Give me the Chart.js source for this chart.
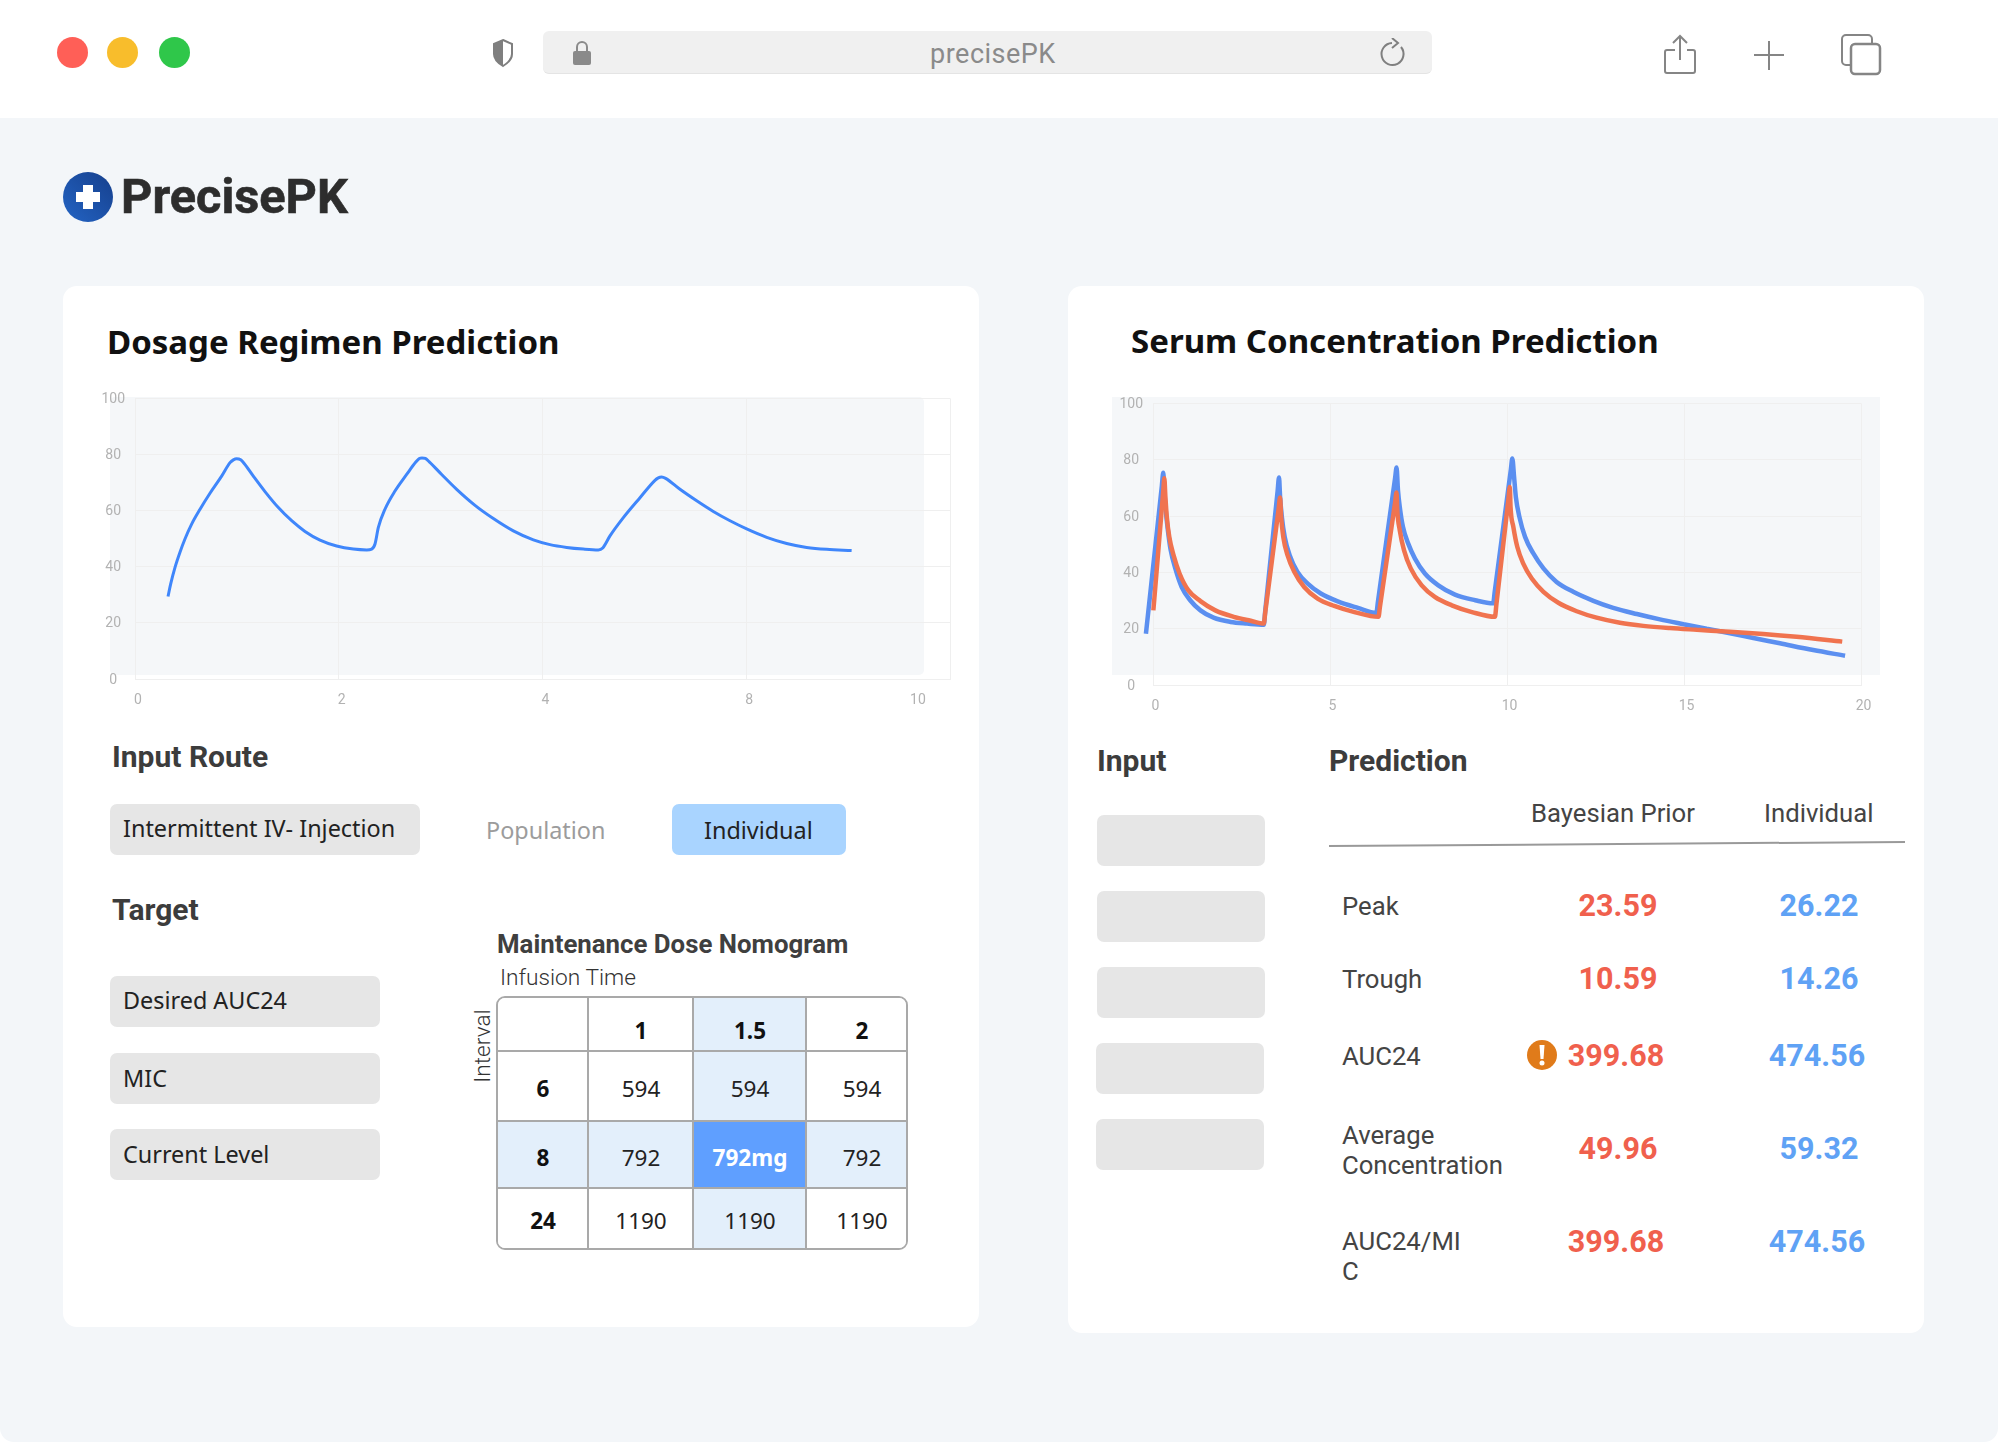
<!DOCTYPE html>
<html>
<head>
<meta charset="utf-8">
<title>PrecisePK</title>
<script src="https://cdn.jsdelivr.net/npm/chart.js@4"></script>
<style>
html, body { margin: 0; padding: 0; background: #fff; }
#page { position: relative; width: 2000px; height: 1442px; overflow: hidden; background: #fff; }
#page > * { position: absolute; }
.t { white-space: nowrap; transform: translateY(-50%); line-height: 1; }
.noto { font-family: "Noto Sans", sans-serif; }
.rob { font-family: Roboto, sans-serif; }
.card { background: #fff; border-radius: 14px; }
.pill { background: #e6e6e6; border-radius: 7px; }
.h2 { font-family: Roboto, sans-serif; font-weight: 700; font-size: 30px; color: #3c3c3c; }
.title { font-family: "Noto Sans", sans-serif; font-weight: 700; font-size: 33px; color: #111; }
.pilltext { font-family: "Noto Sans", sans-serif; font-size: 23.4px; color: #222; }
.lbl { font-family: Roboto, sans-serif; font-size: 25.7px; color: #444; }
.val { font-family: Roboto, sans-serif; font-weight: 700; font-size: 30.5px; text-align: center; white-space: nowrap; line-height: 1; transform: translate(-50%, -50%); }
.red { color: #f0604d; }
.blue { color: #5fa2f5; }
.cell { position: absolute; font-family: "Noto Sans", sans-serif; font-size: 22.5px; color: #222; transform: translate(-50%, -50%); white-space: nowrap; line-height: 1; }
.plotbg { background: #f5f7f9; border-radius: 5px; }
</style>
</head>
<body>
<div id="page">
  <!-- window background -->
  <div style="left:0;top:118px;width:1998px;height:1324px;background:#f3f6f9;border-radius:0 0 14px 14px"></div>

  <!-- browser toolbar -->
  <div style="left:57px;top:37px;width:31px;height:31px;border-radius:50%;background:#ff5f57"></div>
  <div style="left:107px;top:37px;width:31px;height:31px;border-radius:50%;background:#f8bd2c"></div>
  <div style="left:159px;top:37px;width:31px;height:31px;border-radius:50%;background:#2fc74a"></div>
  <svg style="left:490px;top:38px" width="26" height="30" viewBox="0 0 26 30">
    <path d="M13 2 L22 6 V16 C22 21 18 25 13 28 C8 25 4 21 4 16 V6 Z" fill="#fff" stroke="#7f7f7f" stroke-width="2"/>
    <path d="M13 2 L4 6 V16 C4 21 8 25 13 28 Z" fill="#7f7f7f"/>
  </svg>
  <div style="left:543px;top:31px;width:889px;height:43px;background:#f0f0f0;border-radius:6px;border-bottom:1px solid #e4e4e4;box-sizing:border-box"></div>
  <svg style="left:570px;top:40px" width="24" height="26" viewBox="0 0 24 26">
    <path d="M7 12 V7 a5 5 0 0 1 10 0 V12" fill="none" stroke="#8a8a8a" stroke-width="2"/>
    <rect x="3" y="11" width="18" height="14" rx="2" fill="#8a8a8a"/>
  </svg>
  <div class="t rob" style="left:930px;top:54px;font-size:27px;letter-spacing:0.5px;color:#8a8a8a">precisePK</div>
  <svg style="left:1379px;top:38px" width="30" height="30" viewBox="0 0 30 30">
    <path d="M22 9 A11 11 0 1 1 13 5" fill="none" stroke="#7f7f7f" stroke-width="2"/>
    <path d="M13 0 L19 5 L13 10" fill="none" stroke="#7f7f7f" stroke-width="2"/>
  </svg>
  <svg style="left:1662px;top:33px" width="240" height="46" viewBox="0 0 240 46" fill="none" stroke="#858585" stroke-width="2">
    <path d="M13 17 H5 a2 2 0 0 0 -2 2 V38 a2 2 0 0 0 2 2 H31 a2 2 0 0 0 2 -2 V19 a2 2 0 0 0 -2 -2 H25"/>
    <path d="M18 27 V3 M11 10 L18 3 L25 10"/>
    <path d="M92 22 H122 M107 8 V37"/>
    <rect x="180" y="2" width="30" height="30" rx="4"/>
    <rect x="189" y="11" width="29" height="30" rx="4" fill="#fff" stroke-width="2.500"/>
  </svg>

  <!-- logo -->
  <svg style="left:62px;top:171px" width="52" height="52" viewBox="0 0 52 52">
    <defs><linearGradient id="lg" x1="0" y1="1" x2="1" y2="0"><stop offset="0" stop-color="#2364c4"/><stop offset="1" stop-color="#163f8c"/></linearGradient></defs>
    <circle cx="26" cy="26" r="25" fill="url(#lg)"/>
    <path d="M21 14 h10 v7 h7 v10 h-7 v7 h-10 v-7 h-7 v-10 h7 z" fill="#fff"/>
  </svg>
  <div class="t rob" style="left:121px;top:197px;font-size:48.7px;font-weight:700;color:#2d2d2d;-webkit-text-stroke:0.6px #2d2d2d">PrecisePK</div>

  <!-- left card -->
  <div class="card" style="left:63px;top:286px;width:916px;height:1041px"></div>
  <div class="t title" style="left:107px;top:341px">Dosage Regimen Prediction</div>
  <div class="plotbg" style="left:110px;top:397px;width:814px;height:278px"></div>
  <canvas id="doseChart" width="880" height="340" style="left:90px;top:380px"></canvas>

  <div class="t h2" style="left:112px;top:757px">Input Route</div>
  <div class="pill" style="left:110px;top:804px;width:310px;height:51px"></div>
  <div class="t pilltext" style="left:123px;top:829px">Intermittent IV- Injection</div>
  <div class="t pilltext" style="left:486px;top:831px;color:#9c9c9c">Population</div>
  <div class="pill" style="left:672px;top:804px;width:174px;height:51px;background:#a9d4ff"></div>
  <div class="t pilltext" style="left:704px;top:831px">Individual</div>

  <div class="t h2" style="left:112px;top:910px">Target</div>
  <div class="pill" style="left:110px;top:976px;width:270px;height:51px"></div>
  <div class="t pilltext" style="left:123px;top:1001px">Desired AUC24</div>
  <div class="pill" style="left:110px;top:1053px;width:270px;height:51px"></div>
  <div class="t pilltext" style="left:123px;top:1079px">MIC</div>
  <div class="pill" style="left:110px;top:1129px;width:270px;height:51px"></div>
  <div class="t pilltext" style="left:123px;top:1155px">Current Level</div>

  <div class="t rob" style="left:497px;top:945px;font-size:25.8px;font-weight:700;color:#3f3f3f">Maintenance Dose Nomogram</div>
  <div class="t rob" style="left:500px;top:978px;font-size:22.7px;font-weight:300;color:#333">Infusion Time</div>
  <div class="rob" style="left:483px;top:1046px;font-size:22.7px;font-weight:300;color:#333;line-height:1;white-space:nowrap;transform:translate(-50%,-50%) rotate(-90deg)">Interval</div>
  <div id="nomogram" style="left:496px;top:996px;width:412px;height:254px;box-sizing:border-box;border:2px solid #a9a9a9;border-radius:9px;overflow:hidden;background:#fff"></div>

  <!-- right card -->
  <div class="card" style="left:1068px;top:286px;width:856px;height:1047px"></div>
  <div class="t title" style="left:1131px;top:340px">Serum Concentration Prediction</div>
  <div style="left:1112px;top:397px;width:768px;height:278px;background:#f5f7f9"></div>
  <canvas id="serumChart" width="790" height="345" style="left:1108px;top:385px"></canvas>

  <div class="t h2" style="left:1097px;top:761px">Input</div>
  <div class="t h2" style="left:1329px;top:761px">Prediction</div>
  <div class="pill" style="left:1097px;top:815px;width:168px;height:51px"></div>
  <div class="pill" style="left:1097px;top:891px;width:168px;height:51px"></div>
  <div class="pill" style="left:1097px;top:967px;width:168px;height:51px"></div>
  <div class="pill" style="left:1096px;top:1043px;width:168px;height:51px"></div>
  <div class="pill" style="left:1096px;top:1119px;width:168px;height:51px"></div>

  <div class="t lbl" style="left:1531px;top:814px">Bayesian Prior</div>
  <div class="t lbl" style="left:1764px;top:814px">Individual</div>
  <svg style="left:1329px;top:840px" width="578" height="8"><line x1="0" y1="6" x2="576" y2="2" stroke="#999" stroke-width="2"/></svg>

  <div class="t lbl" style="left:1342px;top:907px">Peak</div>
  <div class="t lbl" style="left:1342px;top:980px">Trough</div>
  <div class="t lbl" style="left:1342px;top:1057px">AUC24</div>
  <div class="t lbl" style="left:1342px;top:1136px">Average</div>
  <div class="t lbl" style="left:1342px;top:1166px">Concentration</div>
  <div class="t lbl" style="left:1342px;top:1242px">AUC24/MI</div>
  <div class="t lbl" style="left:1342px;top:1272px">C</div>

  <div class="val red" style="left:1618px;top:906px">23.59</div>
  <div class="val blue" style="left:1819px;top:906px">26.22</div>
  <div class="val red" style="left:1618px;top:979px">10.59</div>
  <div class="val blue" style="left:1819px;top:979px">14.26</div>
  <svg style="left:1527px;top:1040px" width="30" height="30" viewBox="0 0 30 30">
    <circle cx="15" cy="15" r="15" fill="#e07b1a"/>
    <path d="M12.500 5 h5 l-1 14 h-3 z" fill="#fff"/><circle cx="15" cy="23" r="2.500" fill="#fff"/>
  </svg>
  <div class="val red" style="left:1616px;top:1056px">399.68</div>
  <div class="val blue" style="left:1817px;top:1056px">474.56</div>
  <div class="val red" style="left:1618px;top:1149px">49.96</div>
  <div class="val blue" style="left:1819px;top:1149px">59.32</div>
  <div class="val red" style="left:1616px;top:1242px">399.68</div>
  <div class="val blue" style="left:1817px;top:1242px">474.56</div>
</div>

<script>
// left chart (x is the position along the axis, the printed labels are uneven)
const doseX = [0.405,0.438,0.491,0.552,0.613,0.695,0.798,0.920,1.063,1.166,1.207,1.247,1.297,1.337,1.452,1.595,1.759,1.922,2.086,2.270,2.474,2.679,2.843,2.904,2.945,2.986,3.067,3.190,3.333,3.448,3.489,3.521,3.562,3.611,3.763,3.947,4.172,4.397,4.642,4.888,5.092,5.297,5.501,5.685,5.739,5.828,5.992,6.196,6.380,6.421,6.462,6.511,6.687,6.892,7.096,7.301,7.505,7.751,7.996,8.241,8.487,8.793];
const doseY = [29.4,33.9,39.8,45.2,49.9,55.2,60.5,66.2,72.3,77.1,78.1,78.5,78.1,76.9,72.3,66.8,61.1,56.4,52.6,49.5,47.4,46.3,46.0,46.3,48.1,54.0,60.5,67.0,72.9,77.4,78.6,78.8,78.6,77.4,72.9,67.6,61.9,57.2,52.8,49.6,47.9,46.9,46.3,46.0,46.7,51.0,57.5,64.6,70.8,71.7,72.0,71.5,67.6,63.5,59.7,56.4,53.5,50.5,48.3,46.9,46.2,45.8];
const doseTickPos = [0,2.5,5,7.5,9.57,10];
const doseTickLabels = ['0','2','4','8','10',''];
const yTicks = [0,20,40,60,80,100];

// right chart
const priorX = [-0.2,0.25,0.29,0.32,0.36,0.42,0.50,0.63,0.81,1.05,1.34,1.71,2.19,2.66,3.13,3.17,3.52,3.56,3.59,3.64,3.72,3.86,4.08,4.37,4.74,5.22,5.79,6.31,6.35,6.84,6.88,6.92,6.97,7.06,7.21,7.40,7.68,8.06,8.53,9.10,9.61,9.65,10.11,10.15,10.20,10.25,10.35,10.51,10.74,11.03,11.40,11.87,12.44,13.0,13.67,14.32,14.99,15.64,16.30,16.96,17.71,18.65,19.55];
const priorY = [18.2,70.7,75.4,69.2,62.1,55.0,47.9,41.4,34.8,30.1,26.5,23.9,22.4,21.8,21.4,26.3,68.8,73.7,66.9,59.7,52.6,46.1,40.2,36.0,32.5,29.7,27.4,25.6,29.2,73.6,77.2,69.2,63.3,56.2,50.2,44.9,39.6,35.4,32.1,30.1,29.0,32.8,76.6,80.4,73.9,66.8,59.7,52.6,46.8,41.4,36.6,33.1,29.9,27.4,25.2,23.3,21.6,20.0,18.4,16.7,14.8,12.4,10.4];
const indivX = [0.01,0.04,0.29,0.32,0.35,0.39,0.46,0.58,0.75,1.00,1.34,1.76,2.28,2.76,3.13,3.17,3.55,3.59,3.62,3.68,3.80,3.99,4.27,4.65,5.12,5.69,6.37,6.41,6.84,6.88,6.90,6.97,7.09,7.28,7.59,7.96,8.44,9.01,9.66,9.70,10.04,10.08,10.10,10.18,10.29,10.46,10.70,11.03,11.45,11.97,12.53,13.19,13.85,14.60,15.36,16.30,17.24,18.18,19.47];
const indivY = [26.5,31.0,68.9,73.4,66.9,59.7,52.6,46.1,39.6,33.6,29.8,26.5,24.2,22.8,21.8,25.7,62.7,66.6,59.7,52.6,46.1,40.2,34.8,30.7,28.1,25.9,24.2,27.7,64.9,68.4,62.1,55.0,47.9,41.4,35.4,31.3,28.3,25.9,24.2,28.6,65.9,70.3,63.2,56.1,49.1,43.1,37.8,33.1,29.2,26.2,23.9,22.1,21.0,20.2,19.6,18.9,18.1,17.1,15.4];

// nomogram table
const nomoCols = ['', '1', '1.5', '2'];
const nomoRows = ['6', '8', '24'];
const nomoValues = [['594','594','594'],['792','792mg','792'],['1190','1190','1190']];

const toPoints = (xs, ys) => xs.map((x, i) => ({x: x, y: ys[i]}));
const gridColor = '#efefef';
const tickFont = {family: 'Roboto', size: 14};

function yAxis() {
    return {
        min: 0, max: 100,
        afterBuildTicks: axis => { axis.ticks = yTicks.map(v => ({value: v})); },
        afterFit: axis => { axis.width = 45; },
        border: {color: gridColor},
        grid: {color: gridColor, drawTicks: false},
        ticks: {color: '#b2b2b2', font: tickFont, padding: 10, crossAlign: 'center', labelOffset: 1}
    };
}

function fitXAxis(axis) {
    axis.height = 40;
    axis.paddingLeft = 0;
    axis.paddingRight = 0;
}

new Chart(document.getElementById('doseChart'), {
    type: 'line',
    data: {
        datasets: [{
            data: toPoints(doseX, doseY),
            borderColor: '#3f86fb',
            borderWidth: 3,
            pointRadius: 0,
            cubicInterpolationMode: 'monotone'
        }]
    },
    options: {
        responsive: false,
        animation: false,
        layout: {padding: {top: 17, right: 20, bottom: 1, left: 0}},
        plugins: {legend: {display: false}, tooltip: {enabled: false}},
        scales: {
            x: {
                type: 'linear', min: 0, max: 10,
                afterBuildTicks: axis => { axis.ticks = doseTickPos.map(v => ({value: v})); },
                afterFit: fitXAxis,
                border: {color: gridColor},
                grid: {color: c => (c.index === 4 ? 'transparent' : gridColor), drawTicks: false},
                ticks: {
                    color: '#b2b2b2', font: tickFont, padding: 13, labelOffset: 3,
                    autoSkip: false, maxRotation: 0,
                    callback: (v, i) => doseTickLabels[i]
                }
            },
            y: yAxis()
        }
    }
});

new Chart(document.getElementById('serumChart'), {
    type: 'line',
    data: {
        datasets: [
            {data: toPoints(indivX, indivY), borderColor: '#f0734f', borderWidth: 4.5, pointRadius: 0, cubicInterpolationMode: 'monotone', borderJoinStyle: 'bevel', clip: false},
            {data: toPoints(priorX, priorY), borderColor: '#5b8ff0', borderWidth: 4.5, pointRadius: 0, cubicInterpolationMode: 'monotone', borderJoinStyle: 'bevel', clip: false}
        ]
    },
    options: {
        responsive: false,
        animation: false,
        layout: {padding: {top: 18, right: 37, bottom: 5, left: 0}},
        plugins: {legend: {display: false}, tooltip: {enabled: false}},
        scales: {
            x: {
                type: 'linear', min: 0, max: 20,
                afterFit: fitXAxis,
                border: {color: gridColor},
                grid: {color: gridColor, drawTicks: false},
                ticks: {color: '#b2b2b2', font: tickFont, padding: 13, labelOffset: 2.5, stepSize: 5, maxRotation: 0}
            },
            y: yAxis()
        }
    }
});

// nomogram table: cell edges and text centres inside the frame
const colEdges = [0, 91, 196, 309, 410];
const rowEdges = [0, 54, 124, 191, 252];
const colCenters = [45, 143, 252, 364];
const rowCenters = [33, 91, 160, 223];
const nomo = document.getElementById('nomogram');
function addCell(c, r, text, bold) {
    const cell = document.createElement('div');
    const highlighted = c === 2 || r === 2;
    const selected = c === 2 && r === 2;
    cell.style.cssText = 'position:absolute;box-sizing:border-box;left:' + colEdges[c] + 'px;top:' + rowEdges[r] + 'px;width:' + (colEdges[c + 1] - colEdges[c]) + 'px;height:' + (rowEdges[r + 1] - rowEdges[r]) + 'px;' +
        'border-right:' + (c < 3 ? '2px solid #a9a9a9;' : 'none;') + 'border-bottom:' + (r < 3 ? '2px solid #a9a9a9;' : 'none;') +
        'background:' + (selected ? '#5f9fff' : highlighted ? '#e3effb' : '#fff');
    nomo.appendChild(cell);
    const span = document.createElement('div');
    span.className = 'cell';
    span.style.cssText = 'left:' + colCenters[c] + 'px;top:' + rowCenters[r] + 'px;' + (bold ? 'font-weight:700;color:#111;' : '') + (selected ? 'color:#fff;font-weight:700;' : '');
    span.textContent = text;
    nomo.appendChild(span);
}
nomoCols.forEach((label, c) => addCell(c, 0, label, true));
nomoRows.forEach((label, r) => {
    addCell(0, r + 1, label, true);
    nomoValues[r].forEach((v, c) => addCell(c + 1, r + 1, v, false));
});
</script>
</body>
</html>
